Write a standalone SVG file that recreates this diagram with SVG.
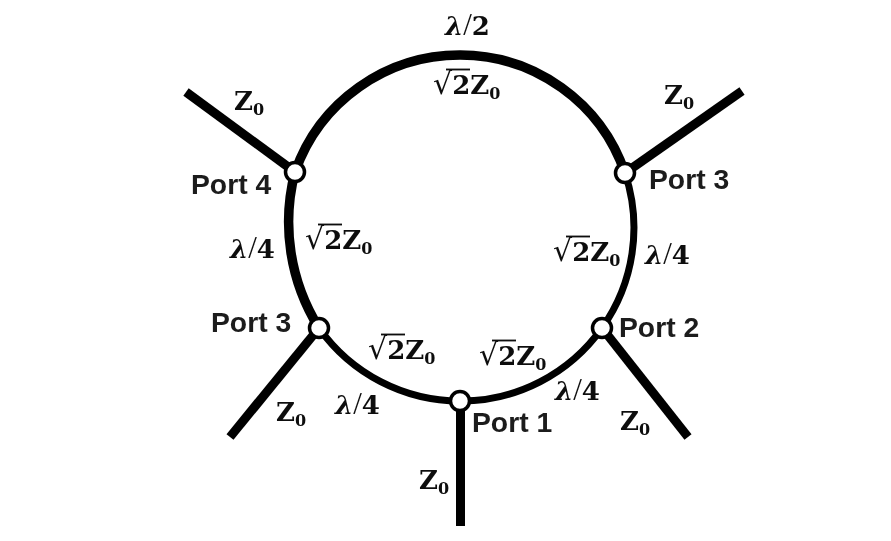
<svg xmlns="http://www.w3.org/2000/svg" width="891" height="541" viewBox="0 0 891 541">
<defs>
<style>
.w{fill:none;stroke:#000;stroke-width:9}
.t{stroke-width:9.500}
.n{stroke-width:7}
.p{fill:#fff;stroke:#000;stroke-width:3.5}
.port{font:bold 28.300px "Liberation Sans",Arial,sans-serif;fill:#1a1a1a}
.m{font:bold 26px "DejaVu Serif",serif;fill:#111}
.i{font-style:italic}
.sl{font-family:"Liberation Serif",serif;font-size:31px;font-weight:normal}
.s{font-size:16px}
.q{font-family:"DejaVu Sans",sans-serif;font-size:30px;font-weight:normal}
.r{fill:none;stroke:#111;stroke-width:1.8}
</style>
<filter id="soft" filterUnits="userSpaceOnUse" x="0" y="0" width="891" height="541"><feGaussianBlur stdDeviation="0.55"/></filter>
</defs>
<rect width="891" height="541" fill="#fff"/>
<g filter="url(#soft)">
<g id="connectors">
<path class="w t" d="M295 172A174.600 174.600 0 0 1 625 173"/>
<path class="w t" d="M295 172A200 200 0 0 0 319 328"/>
<path class="w n" d="M319 328A173 173 0 0 0 460 401"/>
<path class="w n" d="M460 401A173 173 0 0 0 602 328"/>
<path class="w n" d="M602 328A173 173 0 0 0 625 173"/>
<path class="w" d="M186 92L295 172"/>
<path class="w" d="M742 91L625 173"/>
<path class="w" d="M319 328L230 437"/>
<path class="w" d="M602 328L688 437"/>
<path class="w" d="M460.500 401V526"/>
</g>
<g id="port-4"><circle class="p" cx="295" cy="172" r="9.500"/><text class="port" x="191" y="194">Port 4</text></g>
<g id="port-3-right"><circle class="p" cx="625" cy="173" r="9.500"/><text class="port" x="649" y="189">Port 3</text></g>
<g id="port-3-left"><circle class="p" cx="319" cy="328" r="9.500"/><text class="port" x="211" y="332">Port 3</text></g>
<g id="port-2"><circle class="p" cx="602" cy="328" r="9.500"/><text class="port" x="619" y="337">Port 2</text></g>
<g id="port-1"><circle class="p" cx="460" cy="401" r="9.500"/><text class="port" x="472" y="432">Port 1</text></g>
<g id="labels">
<text class="m" x="445" y="35"><tspan class="i">λ</tspan><tspan class="sl">/</tspan>2</text>
<text class="m" x="230" y="258"><tspan class="i">λ</tspan><tspan class="sl">/</tspan>4</text>
<text class="m" x="645" y="264"><tspan class="i">λ</tspan><tspan class="sl">/</tspan>4</text>
<text class="m" x="335" y="414"><tspan class="i">λ</tspan><tspan class="sl">/</tspan>4</text>
<text class="m" x="555" y="400"><tspan class="i">λ</tspan><tspan class="sl">/</tspan>4</text>
<text class="m" x="234" y="110">Z<tspan class="s" dy="5">0</tspan></text>
<text class="m" x="664" y="104">Z<tspan class="s" dy="5">0</tspan></text>
<text class="m" x="276" y="421">Z<tspan class="s" dy="5">0</tspan></text>
<text class="m" x="620" y="430">Z<tspan class="s" dy="5">0</tspan></text>
<text class="m" x="419" y="489">Z<tspan class="s" dy="5">0</tspan></text>
<g id="r1"><text class="m" x="433" y="94"><tspan class="q">√</tspan>2Z<tspan class="s" dy="5">0</tspan></text><path class="r" d="M446 69.500H470"/></g>
<g id="r2"><text class="m" x="305" y="249"><tspan class="q">√</tspan>2Z<tspan class="s" dy="5">0</tspan></text><path class="r" d="M318 224.500H342"/></g>
<g id="r3"><text class="m" x="553" y="261"><tspan class="q">√</tspan>2Z<tspan class="s" dy="5">0</tspan></text><path class="r" d="M566 236.500H590"/></g>
<g id="r4"><text class="m" x="368" y="359"><tspan class="q">√</tspan>2Z<tspan class="s" dy="5">0</tspan></text><path class="r" d="M381 334.500H405"/></g>
<g id="r5"><text class="m" x="479" y="365"><tspan class="q">√</tspan>2Z<tspan class="s" dy="5">0</tspan></text><path class="r" d="M492 340.500H516"/></g>
</g>
</g>
</svg>
